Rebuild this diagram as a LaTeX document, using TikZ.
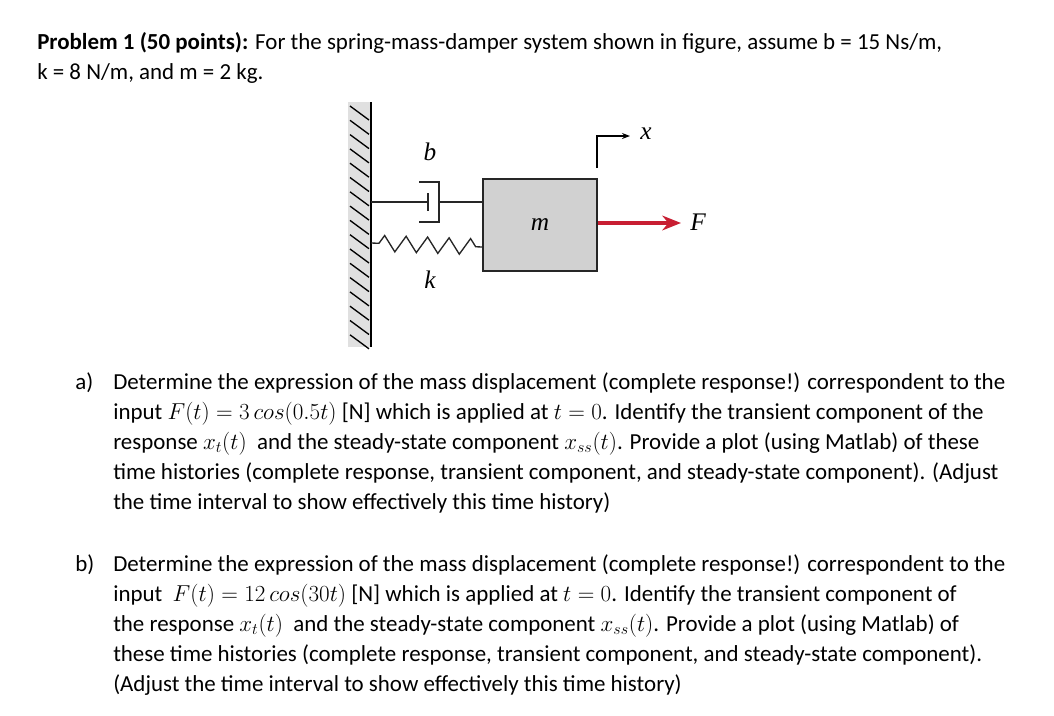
\documentclass[tikz,border=0pt]{standalone}
\usepackage{fontspec}
\setmainfont{Carlito}
\newfontfamily\lblfont{Liberation Serif}
\usetikzlibrary{decorations.pathmorphing,arrows.meta,patterns}
\begin{document}
\begin{tikzpicture}[x=0.75pt,y=-0.75pt,
  txt/.style={anchor=base west,inner sep=0,font=\fontsize{17.2}{20}\selectfont},
  lbl/.style={font=\fontsize{19}{22}\selectfont\lblfont\itshape},
  line/.style={draw=black!85,line width=1pt}]
\useasboundingbox[fill=white] (0,0) rectangle (1054,715);
\node[txt] (t1) at (37,49) {\textbf{Problem 1 (50 points):} For the spring-mass-damper system shown in figure, assume b = 15 Ns/m,};
\node[txt] (t2) at (37,79) {k = 8 N/m, and m = 2 kg.};
% wall
\fill[black!12] (348,102) rectangle (371,347);
\foreach \i in {0,...,16} \draw[line width=1pt] (350,{106+\i*14.3}) -- (369,{120+\i*14.3});
\draw[line width=1.2pt] (371,102) -- (371,347);
% mass
\node[draw=black!85,line width=1pt,fill=black!18,minimum width=114*0.75pt,minimum height=92*0.75pt,inner sep=0] (m) at (540,225) {};
\node[lbl] at (m) {m};
% damper
\coordinate (dw) at (371,202);
\coordinate (pst) at (428,202);
\draw[line] (dw) -- (pst);
\draw[line] (428,193) -- (428,211);
\draw[line] (419,182) -- (439,182) -- (439,222) -- (419,222);
\draw[line] (439,202) -- (m.west |- 0,202);
\node[lbl] (b) at (430,152) {b};
% spring
\coordinate (sw) at (371,243);
\draw[line,decoration={zigzag,segment length=21.5*0.75pt,amplitude=8*0.75pt,pre length=6pt,post length=3pt},decorate] (sw) -- (m.west |- 0,247);
\node[lbl] (k) at (430,280) {k};
% x arrow
\coordinate (xb) at (597,168);
\draw[line width=0.9pt,-{Stealth[length=6pt]}] (xb) -- (597,136) -- (630,136);
\node[lbl] (x) at (646,134) {x};
% F arrow
\draw[line width=2.4pt,draw={rgb,255:red,200;green,30;blue,50},-{Stealth[length=14pt,width=11pt]}] (m.east |- 0,223) -- (681,223);
\node[lbl] (F) at (698,222) {F};
% part a
\node[txt] (a0) at (75,389) {a)};
\node[txt] (a1) at (113,389) {Determine the expression of the mass displacement (complete response!) correspondent to the};
\node[txt] (a2) at (113,419) {input $F(t)=3\,cos(0.5t)$ [N] which is applied at $t=0$. Identify the transient component of the};
\node[txt] (a3) at (113,449) {response $x_t(t)$ \ and the steady-state component $x_{ss}(t)$. Provide a plot (using Matlab) of these};
\node[txt] (a4) at (113,479) {time histories (complete response, transient component, and steady-state component). (Adjust};
\node[txt] (a5) at (113,509) {the time interval to show effectively this time history)};
% part b
\node[txt] (b0) at (75,571) {b)};
\node[txt] (b1) at (113,571) {Determine the expression of the mass displacement (complete response!) correspondent to the};
\node[txt] (b2) at (113,601) {input \ $F(t)=12\,cos(30t)$ [N] which is applied at $t=0$. Identify the transient component of};
\node[txt] (b3) at (113,631) {the response $x_t(t)$ \ and the steady-state component $x_{ss}(t)$. Provide a plot (using Matlab) of};
\node[txt] (b4) at (113,661) {these time histories (complete response, transient component, and steady-state component).};
\node[txt] (b5) at (113,691) {(Adjust the time interval to show effectively this time history)};
\end{tikzpicture}
\end{document}
